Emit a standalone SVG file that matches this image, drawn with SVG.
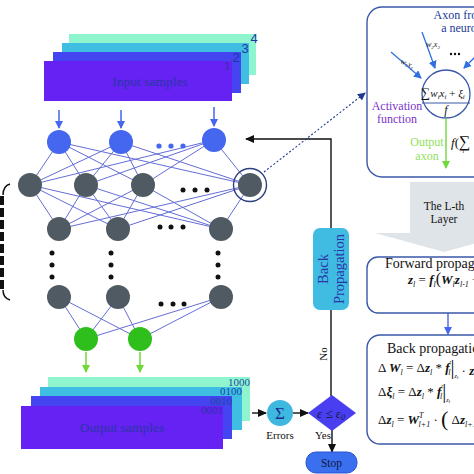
<svg xmlns="http://www.w3.org/2000/svg" width="474" height="474" viewBox="0 0 474 474">
<defs>
<style>
.serif{font-family:"Liberation Serif","Times New Roman",serif;}
.sans{font-family:"Liberation Sans",Arial,sans-serif;}
.lbl{fill:#2a36a8;}
.conn{stroke:#4a55d0;stroke-width:1;opacity:0.85;}
.hid{fill:#4f5a62;}
.inp{fill:#4566ee;}
.out{fill:#2fbf1c;}
.dot{fill:#111;}
.panel{fill:none;stroke:#3a58a8;stroke-width:1.4;}
.it{font-style:italic;}
.bi{font-style:italic;font-weight:bold;}
</style>
<marker id="ab" markerWidth="8" markerHeight="8" refX="7" refY="4" orient="auto" markerUnits="userSpaceOnUse"><path d="M0,0 L8,4 L0,8 z" fill="#4566ee"/></marker>
<marker id="ak" markerWidth="9" markerHeight="8" refX="8" refY="4" orient="auto" markerUnits="userSpaceOnUse"><path d="M0,0 L9,4 L0,8 z" fill="#111"/></marker>
<marker id="ag" markerWidth="8" markerHeight="8" refX="7" refY="4" orient="auto" markerUnits="userSpaceOnUse"><path d="M0,0 L8,4 L0,8 z" fill="#6fd83a"/></marker>
<marker id="ad" markerWidth="8" markerHeight="8" refX="7" refY="4" orient="auto" markerUnits="userSpaceOnUse"><path d="M0,0 L8,4 L0,8 z" fill="#203a90"/></marker>
<marker id="an" markerWidth="8" markerHeight="8" refX="7" refY="4" orient="auto" markerUnits="userSpaceOnUse"><path d="M0,0 L8,4 L0,8 z" fill="#3070e0"/></marker>
</defs>
<rect width="474" height="474" fill="#fff"/>

<g id="input-samples">
<rect x="69" y="34" width="187" height="41" fill="#8ff5cf"/>
<text x="254" y="43" class="sans" font-size="13" fill="#1a3aa0" text-anchor="middle">4</text>
<rect x="62" y="43" width="187" height="41" fill="#3fbde3"/>
<text x="245" y="53" class="sans" font-size="13" fill="#1a3aa0" text-anchor="middle">3</text>
<rect x="53" y="52" width="188" height="41" fill="#4444f0"/>
<text x="236" y="62" class="sans" font-size="13" fill="#1a3aa0" text-anchor="middle">2</text>
<rect x="44" y="61" width="188" height="40" fill="#6522f2"/>
<text x="227" y="70" class="serif" font-size="12" fill="#2a36a8" text-anchor="middle">1</text>
<text x="150" y="86" class="serif lbl" font-size="13.5" text-anchor="middle">Input samples</text>
</g>

<g id="connectors">
<g class="conn">
<line x1="59" y1="142" x2="30" y2="185"/><line x1="59" y1="142" x2="86" y2="185"/><line x1="59" y1="142" x2="143" y2="185"/><line x1="59" y1="142" x2="250" y2="185"/>
<line x1="121" y1="142" x2="30" y2="185"/><line x1="121" y1="142" x2="86" y2="185"/><line x1="121" y1="142" x2="143" y2="185"/><line x1="121" y1="142" x2="250" y2="185"/>
<line x1="214" y1="140" x2="30" y2="185"/><line x1="214" y1="140" x2="86" y2="185"/><line x1="214" y1="140" x2="143" y2="185"/><line x1="214" y1="140" x2="250" y2="185"/>
<line x1="30" y1="185" x2="59" y2="229"/><line x1="30" y1="185" x2="118" y2="229"/><line x1="30" y1="185" x2="221" y2="229"/>
<line x1="86" y1="185" x2="59" y2="229"/><line x1="86" y1="185" x2="118" y2="229"/><line x1="86" y1="185" x2="221" y2="229"/>
<line x1="143" y1="185" x2="59" y2="229"/><line x1="143" y1="185" x2="118" y2="229"/><line x1="143" y1="185" x2="221" y2="229"/>
<line x1="250" y1="185" x2="59" y2="229"/><line x1="250" y1="185" x2="118" y2="229"/><line x1="250" y1="185" x2="221" y2="229"/>
<line x1="59" y1="297" x2="86" y2="339"/><line x1="59" y1="297" x2="140" y2="339"/>
<line x1="118" y1="297" x2="86" y2="339"/><line x1="118" y1="297" x2="140" y2="339"/>
<line x1="221" y1="297" x2="86" y2="339"/><line x1="221" y1="297" x2="140" y2="339"/>
</g>
<g stroke="#4566ee" stroke-width="1.5" fill="none">
<line x1="59" y1="110" x2="59" y2="128" marker-end="url(#ab)"/>
<line x1="121" y1="110" x2="121" y2="128" marker-end="url(#ab)"/>
<line x1="214" y1="107" x2="214" y2="126" marker-end="url(#ab)"/>
</g>
<g stroke="#6fd83a" stroke-width="1.5" fill="none">
<line x1="86" y1="352" x2="86" y2="372" marker-end="url(#ag)"/>
<line x1="140" y1="352" x2="140" y2="372" marker-end="url(#ag)"/>
</g>
<polyline points="331,228 331,139 246,139" fill="none" stroke="#111" stroke-width="1.4" marker-end="url(#ak)"/>
<line x1="331" y1="310" x2="331" y2="396" stroke="#111" stroke-width="1.4"/>
<line x1="252" y1="413" x2="266" y2="413" stroke="#111" stroke-width="1.4" marker-end="url(#ak)"/>
<line x1="293" y1="413" x2="308" y2="413" stroke="#111" stroke-width="1.4" marker-end="url(#ak)"/>
<line x1="332" y1="430" x2="332" y2="452" stroke="#111" stroke-width="1.4" marker-end="url(#ak)"/>
<line x1="264" y1="172" x2="365" y2="93" stroke="#203a90" stroke-width="1.1" stroke-dasharray="2,2" marker-end="url(#ad)"/>
<line x1="448" y1="313" x2="448" y2="334" stroke="#4566ee" stroke-width="1.4" marker-end="url(#ab)"/>
</g>

<g id="input-layer">
<circle cx="59" cy="142" r="12" class="inp"/>
<circle cx="121" cy="142" r="12" class="inp"/>
<circle cx="214" cy="140" r="12" class="inp"/>
<circle cx="159" cy="146" r="2.6" class="inp"/><circle cx="171" cy="146" r="2.6" class="inp"/><circle cx="183" cy="146" r="2.6" class="inp"/>
</g>
<g id="hidden-layer-1">
<circle cx="30" cy="185" r="12" class="hid"/>
<circle cx="86" cy="185" r="12" class="hid"/>
<circle cx="143" cy="185" r="12" class="hid"/>
<circle cx="250" cy="185" r="12" class="hid"/>
<circle cx="250" cy="185" r="16.5" fill="none" stroke="#2c3f7e" stroke-width="1.4"/>
<circle cx="183" cy="190" r="2.5" class="dot"/><circle cx="195" cy="190" r="2.5" class="dot"/><circle cx="207" cy="190" r="2.5" class="dot"/>
</g>
<g id="hidden-layer-2">
<circle cx="59" cy="229" r="12" class="hid"/>
<circle cx="118" cy="229" r="12" class="hid"/>
<circle cx="221" cy="229" r="12" class="hid"/>
<circle cx="160" cy="227" r="2.5" class="dot"/><circle cx="171" cy="227" r="2.5" class="dot"/><circle cx="183" cy="227" r="2.5" class="dot"/>
<circle cx="52" cy="253" r="2.5" class="dot"/><circle cx="52" cy="265" r="2.5" class="dot"/><circle cx="52" cy="277" r="2.5" class="dot"/>
<circle cx="111" cy="253" r="2.5" class="dot"/><circle cx="111" cy="265" r="2.5" class="dot"/><circle cx="111" cy="277" r="2.5" class="dot"/>
<circle cx="218" cy="253" r="2.5" class="dot"/><circle cx="218" cy="265" r="2.5" class="dot"/><circle cx="218" cy="277" r="2.5" class="dot"/>
</g>
<g id="hidden-layer-3">
<circle cx="59" cy="297" r="12" class="hid"/>
<circle cx="118" cy="297" r="12" class="hid"/>
<circle cx="221" cy="297" r="12" class="hid"/>
<circle cx="161" cy="304" r="2.5" class="dot"/><circle cx="173" cy="304" r="2.5" class="dot"/><circle cx="184" cy="304" r="2.5" class="dot"/>
</g>
<g id="output-layer">
<circle cx="86" cy="339" r="12" class="out"/>
<circle cx="140" cy="339" r="12" class="out"/>
</g>

<g id="bracket" fill="none" stroke="#111">
<path d="M10,184 Q3,186 3,195" stroke-width="1.5"/>
<line x1="2" y1="196" x2="2" y2="290" stroke-width="4" stroke-dasharray="9,3"/>
<path d="M3,290 Q3,298 10,300" stroke-width="1.5"/>
</g>

<g id="output-samples">
<rect x="48" y="377" width="202" height="44" fill="#8ff5cf"/>
<text x="250" y="386" class="serif" font-size="11" fill="#1a4aa0" text-anchor="end">1000</text>
<rect x="40" y="387" width="202" height="43" fill="#3fbde3"/>
<text x="242" y="395" class="serif" font-size="11" fill="#1a4aa0" text-anchor="end">0100</text>
<rect x="31" y="396" width="201" height="43" fill="#4444f0"/>
<text x="232" y="405" class="serif" font-size="11" fill="#1a4aa0" text-anchor="end">0010</text>
<rect x="21" y="406" width="202" height="43" fill="#6522f2"/>
<text x="223" y="414" class="serif" font-size="11" fill="#2a36a8" text-anchor="end">0001</text>
<text x="122" y="432" class="serif lbl" font-size="13.5" text-anchor="middle">Output samples</text>
</g>

<g id="errors">
<circle cx="280" cy="413" r="13" fill="#3fb8e0"/>
<text x="280" y="419" class="serif" font-size="17" fill="#1a2f90" text-anchor="middle">Σ</text>
<text x="280" y="439" class="serif" font-size="11" fill="#111" text-anchor="middle">Errors</text>
</g>

<g id="decision">
<polygon points="332,395 356,413 332,431 308,413" fill="#4a3ff0"/>
<text x="331" y="418" class="serif it" font-size="13" fill="#101840" text-anchor="middle">ε ≤ ε<tspan dy="2" font-size="8">0</tspan></text>
<text x="323" y="439" class="serif" font-size="11" fill="#111" text-anchor="middle">Yes</text>
<text transform="translate(327,354) rotate(-90)" class="serif" font-size="11" fill="#111" text-anchor="middle">No</text>
</g>

<g id="stop">
<rect x="306" y="452" width="51" height="21" rx="10" fill="#3a6ff0" stroke="#2a55d0"/>
<text x="331.5" y="467" class="serif" font-size="11.5" fill="#101840" text-anchor="middle">Stop</text>
</g>

<g id="back-propagation">
<rect x="313" y="228" width="36" height="82" rx="7" fill="#40bce3"/>
<text transform="translate(328,269) rotate(-90)" class="serif" font-size="14.5" fill="#2a36a8" text-anchor="middle">Back</text>
<text transform="translate(344,269) rotate(-90)" class="serif" font-size="14.5" fill="#2a36a8" text-anchor="middle">Propagation</text>
</g>

<g id="neuron-panel">
<rect x="367" y="7" width="160" height="170" rx="15" class="panel"/>
<text x="460" y="19" class="serif" font-size="12" fill="#1a3a9a" text-anchor="middle">Axon from</text>
<text x="462" y="32" class="serif" font-size="12" fill="#1a3a9a" text-anchor="middle">a neuron</text>
<g stroke="#3070e0" stroke-width="1.3">
<line x1="391" y1="52" x2="421" y2="78" marker-end="url(#an)"/>
<line x1="422" y1="32" x2="435" y2="68" marker-end="url(#an)"/>
<line x1="476" y1="56" x2="464" y2="68" marker-end="url(#an)"/>
</g>
<text x="400" y="63" class="serif it" font-size="8" fill="#222" transform="rotate(25 400 63)">w<tspan dy="1.5" font-size="5">1</tspan><tspan dy="-1.5">x</tspan><tspan dy="1.5" font-size="5">1</tspan></text>
<text x="426" y="47" class="serif it" font-size="8" fill="#222">w<tspan dy="1.5" font-size="5">2</tspan><tspan dy="-1.5">x</tspan><tspan dy="1.5" font-size="5">2</tspan></text>
<circle cx="451" cy="54" r="1.2" fill="#111"/><circle cx="455" cy="54" r="1.2" fill="#111"/><circle cx="459" cy="54" r="1.2" fill="#111"/>
<circle cx="446" cy="94" r="24" fill="#fff" stroke="#3a58a8" stroke-width="1.3"/>
<line x1="422" y1="103" x2="470" y2="103" stroke="#3a58a8" stroke-width="1.2"/>
<text x="421" y="97" class="serif" font-size="11" fill="#111"><tspan font-size="13">∑</tspan><tspan class="it">w</tspan><tspan class="it" font-size="7" dy="2">i</tspan><tspan class="it" dy="-2">x</tspan><tspan class="it" font-size="7" dy="2">i</tspan><tspan dy="-2"> + </tspan><tspan class="it">ξ</tspan><tspan class="it" font-size="7" dy="2">i</tspan></text>
<text x="446" y="114" class="serif it" font-size="12" fill="#111" text-anchor="middle">f</text>
<text x="397" y="110" class="serif" font-size="12" fill="#7a32c8" text-anchor="middle">Activation</text>
<text x="397" y="123" class="serif" font-size="12" fill="#7a32c8" text-anchor="middle">function</text>
<line x1="446" y1="118" x2="446" y2="168" stroke="#6fd83a" stroke-width="1.4" marker-end="url(#ag)"/>
<text x="427" y="146" class="serif" font-size="12" fill="#8fe05a" text-anchor="middle">Output</text>
<text x="427" y="160" class="serif" font-size="12" fill="#8fe05a" text-anchor="middle">axon</text>
<text x="451" y="147" class="serif" font-size="13" fill="#111"><tspan class="it">f</tspan>(<tspan font-size="16">∑</tspan><tspan class="it" font-size="6" dx="-8" dy="6">i</tspan></text>
</g>

<g id="lth-layer">
<polygon points="410,182 478,182 478,233 513,233 444,252 375,233 410,233" fill="#dfe4e8"/>
<text x="444" y="210" class="serif" font-size="11.5" fill="#111" text-anchor="middle">The L-th</text>
<text x="444" y="223" class="serif" font-size="11.5" fill="#111" text-anchor="middle">Layer</text>
</g>

<g id="forward-box">
<rect x="367" y="257" width="160" height="56" rx="11" class="panel"/>
<text x="385" y="268" class="serif" font-size="14" fill="#111">Forward propagation</text>
<text x="408" y="284" class="serif" font-size="13" fill="#111"><tspan class="bi">z</tspan><tspan class="it" font-size="8" dy="3">l</tspan><tspan dy="-3"> = </tspan><tspan class="bi">f</tspan><tspan class="it" font-size="8" dy="3">l</tspan><tspan dy="-3" font-size="16">(</tspan><tspan class="bi">W</tspan><tspan class="it" font-size="8" dy="3">l</tspan><tspan class="bi" dy="-3">z</tspan><tspan class="it" font-size="8" dy="3">l-1</tspan><tspan dy="-3"> + </tspan></text>
</g>

<g id="backprop-box">
<rect x="367" y="335" width="160" height="109" rx="13" class="panel"/>
<text x="387" y="353" class="serif" font-size="14" fill="#111">Back propagation</text>
<text x="378" y="372" class="serif" font-size="13" fill="#111">Δ <tspan class="bi">W</tspan><tspan class="it" font-size="8" dy="3">l</tspan><tspan dy="-3"> = Δ</tspan><tspan class="bi">z</tspan><tspan class="it" font-size="8" dy="3">l</tspan><tspan dy="-3"> * </tspan><tspan class="bi">f</tspan><tspan font-size="8" dy="-5">′</tspan><tspan class="it" font-size="8" dx="-3" dy="8">l</tspan><tspan font-size="20" dy="-1">|</tspan><tspan class="it" font-size="6" dy="4">z</tspan><tspan font-size="5" dy="1">l</tspan><tspan dy="-4"> · </tspan><tspan class="bi">z</tspan></text>
<text x="378" y="396" class="serif" font-size="13" fill="#111">Δ<tspan class="bi">ξ</tspan><tspan class="it" font-size="8" dy="3">l</tspan><tspan dy="-3"> = Δ</tspan><tspan class="bi">z</tspan><tspan class="it" font-size="8" dy="3">l</tspan><tspan dy="-3"> * </tspan><tspan class="bi">f</tspan><tspan font-size="8" dy="-5">′</tspan><tspan class="it" font-size="8" dx="-3" dy="8">l</tspan><tspan font-size="20" dy="-1">|</tspan><tspan class="it" font-size="6" dy="4">z</tspan><tspan font-size="5" dy="1">l</tspan></text>
<text x="378" y="424" class="serif" font-size="13" fill="#111">Δ<tspan class="bi">z</tspan><tspan class="it" font-size="8" dy="3">l</tspan><tspan dy="-3"> = </tspan><tspan class="bi">W</tspan><tspan class="it" font-size="8" dy="-6">T</tspan><tspan class="it" font-size="8" dx="-5" dy="9">l+1</tspan><tspan dy="-3"> · </tspan><tspan font-size="22" dy="2">(</tspan><tspan dy="-2"> Δ</tspan><tspan class="bi">z</tspan><tspan class="it" font-size="8" dy="3">l+1</tspan><tspan dy="-3"> *</tspan></text>
</g>
</svg>
